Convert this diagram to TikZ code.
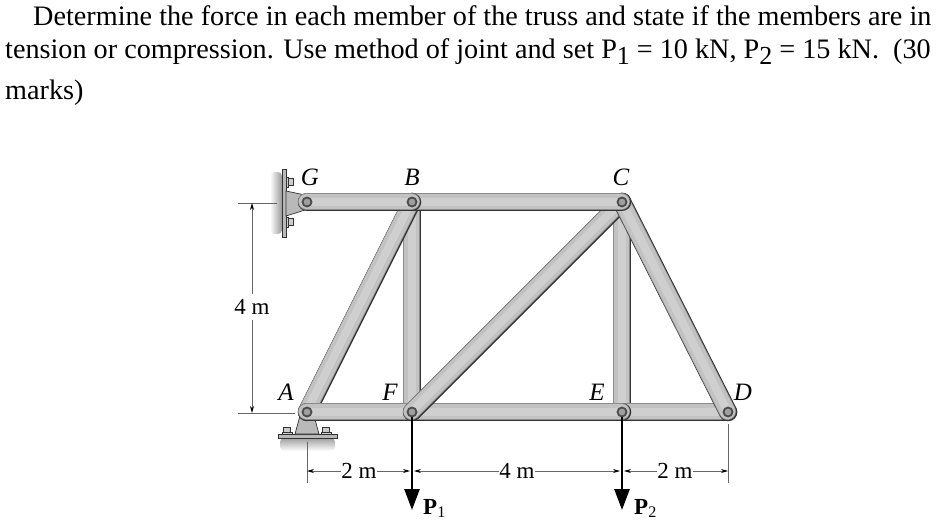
\documentclass[tikz,border=0pt]{standalone}
\usepackage{fontspec}
\setmainfont{Liberation Serif}
\usetikzlibrary{arrows.meta}
\definecolor{steel}{gray}{0.76}
\definecolor{steellight}{gray}{0.81}
\definecolor{steeledge}{gray}{0.2}
\tikzset{
    member/.style={line width=18.5pt, draw=steeledge, line cap=round,
        postaction={draw=black!45, line width=17pt, transform canvas={xshift=-0.5pt,yshift=0.5pt}},
        postaction={draw=steel, line width=15.5pt, transform canvas={xshift=-0.5pt,yshift=0.5pt}},
        postaction={draw=steellight, line width=8pt, transform canvas={xshift=-0.5pt,yshift=0.5pt}}},
    pin/.style={circle, draw=black!70, fill=gray!75, line width=1.8pt, inner sep=0pt, minimum size=9pt},
    dim/.style={draw=black!60, line width=0.7pt},
    dimarrow/.style={dim, -{Stealth[length=7pt,width=4pt,black]}},
    load/.style={line width=2.6pt, black, -{Stealth[length=21pt,width=15pt,inset=0pt]}},
    jointlabel/.style={font=\fontsize{25}{25}\selectfont\itshape, inner sep=0pt},
    dimlabel/.style={font=\fontsize{23}{23}\selectfont, inner sep=0.5pt},
    loadlabel/.style={font=\fontsize{23}{23}\selectfont\bfseries, inner sep=0pt, anchor=base west},
    textline/.style={font=\fontsize{28.2}{28.2}\selectfont, inner sep=0pt, anchor=base west},
    plate/.style={draw=black!80, fill=gray!55, line width=0.7pt},
    bolt/.style={draw=black!80, fill=gray!40, line width=0.6pt},
}
\newcommand{\subdigit}[1]{\raisebox{-6pt}{\fontsize{26}{26}\selectfont #1}}
\begin{document}
\begin{tikzpicture}[x=1pt,y=-1pt]
    \useasboundingbox (0,0) rectangle (936,524);
    % text
    \node[textline] (line1) at (33,26) {Determine the force in each member of the truss and state if the members are in};
    \node[textline] (line2) at (5,59) {tension or compression. Use method of joint and set P\subdigit{1} = 10 kN, P\subdigit{2} = 15 kN.\ \ (30};
    \node[textline] (line3) at (5,100) {marks)};
    % joints
    \coordinate (G) at (307,202);
    \coordinate (B) at (412,202);
    \coordinate (C) at (622,202);
    \coordinate (A) at (307,412);
    \coordinate (F) at (412,412);
    \coordinate (E) at (622,412);
    \coordinate (D) at (728,412);
    % wall at G
    \shade[left color=white, right color=gray!80, rounded corners=4pt] (270,172) rectangle (282,234);
    \filldraw[plate] (282,169) rectangle (286,237);
    \foreach \y in {182,222} {
        \filldraw[bolt] (286,\y-5) rectangle (288,\y+5);
        \filldraw[bolt] (288,\y-3.5) rectangle (293,\y+3.5);
    }
    \filldraw[plate] (286,191) -- (305,195) -- (305,210) -- (286,216) -- cycle;
    % support at A
    \shade[top color=gray!75, bottom color=white, rounded corners=4pt] (280,438) rectangle (335,451);
    \filldraw[plate] (278,434) rectangle (337,438);
    \foreach \x in {287,326} {
        \filldraw[bolt] (\x-5,432) rectangle (\x+5,434);
        \filldraw[bolt] (\x-3.5,427) rectangle (\x+3.5,432);
    }
    \filldraw[plate] (295,434) -- (301,412) -- (313,412) -- (319,434) -- cycle;
    % members
    \foreach \a/\b in {B/F,C/E,E/D,F/E,A/B,A/F,F/C,C/D,B/C,G/B}
        \draw[member] (\a) -- (\b);
    \foreach \j in {G,B,C,A,F,E,D}
        \node[pin] (pin\j) at (\j) {};
    % joint labels
    \node[jointlabel] (labelG) at (310,177) {G};
    \node[jointlabel] (labelB) at (412,177) {B};
    \node[jointlabel] (labelC) at (621,177) {C};
    \node[jointlabel] (labelA) at (286,392) {A};
    \node[jointlabel] (labelF) at (390,392) {F};
    \node[jointlabel] (labelE) at (597,392) {E};
    \node[jointlabel] (labelD) at (743,392) {D};
    % 4 m
    \coordinate (dimtop) at (252,203);
    \coordinate (dimbot) at (252,413);
    \draw[dim] (238,203) -- (277,203);
    \draw[dim] (238,413) -- (295,413);
    \node[dimlabel, inner ysep=5pt] (fourm) at (252,307) {4 m};
    \draw[dimarrow] (fourm) -- (dimtop);
    \draw[dimarrow] (fourm) -- (dimbot);
    % bottom dimensions
    \coordinate (dimA) at (307,471);
    \coordinate (dimFl) at (410,471);
    \coordinate (dimFr) at (414,471);
    \coordinate (dimEl) at (620,471);
    \coordinate (dimEr) at (624,471);
    \coordinate (dimD) at (728,471);
    \draw[dim] (307,442) -- (307,483);
    \draw[dim] (728,424) -- (728,483);
    \node[dimlabel] (widthAF) at (359,471) {2 m};
    \node[dimlabel] (widthFE) at (517,471) {4 m};
    \node[dimlabel] (widthED) at (675,471) {2 m};
    \draw[dimarrow] (widthAF) -- (dimA);
    \draw[dimarrow] (widthAF) -- (dimFl);
    \draw[dimarrow] (widthFE) -- (dimFr);
    \draw[dimarrow] (widthFE) -- (dimEl);
    \draw[dimarrow] (widthED) -- (dimEr);
    \draw[dimarrow] (widthED) -- (dimD);
    % loads
    \coordinate (tipF) at (412,510);
    \coordinate (tipE) at (622,510);
    \draw[load] (pinF) -- (tipF);
    \draw[load] (pinE) -- (tipE);
    \node[loadlabel] (loadP1) at (423,514) {P\textsubscript{\mdseries 1}};
    \node[loadlabel] (loadP2) at (634,514) {P\textsubscript{\mdseries 2}};
\end{tikzpicture}
\end{document}
